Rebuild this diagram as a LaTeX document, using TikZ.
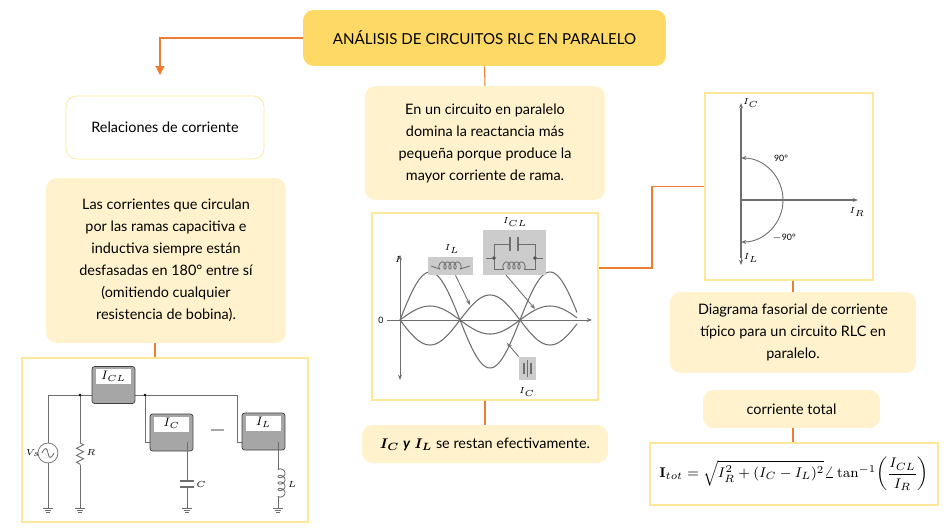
\documentclass[tikz,border=0pt]{standalone}
\usepackage{amsmath}
\usepackage[no-math]{fontspec}
\setmainfont{Lato}
\usetikzlibrary{decorations.pathmorphing,arrows.meta}
\definecolor{gold}{HTML}{FFD966}
\definecolor{cream}{HTML}{FFF2CC}
\definecolor{edge}{HTML}{FFE699}
\definecolor{conn}{HTML}{ED7D31}
\definecolor{wire}{HTML}{6E6E6E}
\newcommand\mymeter[4]{% name, cx, cy, label
 \node[meterbody] (#1) at (#2,#3) {};
 \node[meterwin] at ([yshift=-0.05cm]#1.north) {};
 \node[font=\scriptsize,inner sep=0] at ([yshift=-0.2cm]#1.north) {#4};
 \fill[white] ([xshift=0.17cm,yshift=0.17cm]#1.south west) circle (0.07);
 \fill[white] ([xshift=-0.17cm,yshift=0.17cm]#1.south east) circle (0.07);
}
\newcommand\myground[2]{%
 \draw[wire] (#1-5,#2)--(#1+5,#2) (#1-3.3,#2+2)--(#1+3.3,#2+2) (#1-1.6,#2+4)--(#1+1.6,#2+4);}
% vertical coil: x0,y0, 4 turns downward ~26px
\newcommand\vcoil[2]{\draw[wire,domain=0:1440,samples=160,smooth] plot ({#1+3.5-3.5*cos(\x)},{#2+6.5*\x/360-2.5*sin(\x)});}
% horizontal coil: x0,y0, 4 turns rightward
\newcommand\hcoil[2]{\draw[wire,domain=0:1440,samples=160,smooth] plot ({#1+5*\x/360-2.2*sin(\x)},{#2-3.5+3.5*cos(\x)});}
\begin{document}
\begin{tikzpicture}[x=0.02cm,y=-0.02cm,
 box/.style={rounded corners=6pt,fill=cream,draw=none,align=center,font=\fontsize{8.2}{12.5}\selectfont,inner sep=2pt},
 frame/.style={draw=edge,line width=0.8pt,fill=white},
 cn/.style={draw=conn,line width=0.6pt},
 meterbody/.style={fill=gray!70,draw=gray!50!black,rounded corners=1.5pt,minimum width=0.86cm,minimum height=0.74cm,inner sep=0},
 meterwin/.style={fill=white,minimum width=0.72cm,minimum height=0.3cm,inner sep=0,anchor=north},
 wire/.style={draw=wire,line width=0.5pt},
 gbox/.style={fill=gray!40,inner sep=0}]
\useasboundingbox (0,0) rectangle (950,528);
\coordinate (t2) at (160,75);
\node[rounded corners=6pt,fill=gold,minimum width=7.26cm,minimum height=1.12cm,font=\rmfamily\fontsize{8.6}{11}\selectfont] (title) at (484.5,38) {ANÁLISIS DE CIRCUITOS RLC EN PARALELO};
\draw[cn,-{Triangle[length=5pt,width=5pt,fill=conn]}] (title.west) -| (t2);
\node[box,fill=white,draw=edge,minimum width=3.96cm,minimum height=1.26cm] (rel) at (165,127.5) {Relaciones de corriente};
\node[box,minimum width=4.8cm,minimum height=3.3cm] (las) at (166,260.5) {Las corrientes que circulan\\por las ramas capacitiva e\\inductiva siempre están\\desfasadas en 180° entre sí\\(omitiendo cualquier\\resistencia de bobina).};
\node[frame,minimum width=5.72cm,minimum height=3.28cm] (circ) at (165,440) {};
\draw[cn] (las.south -| 155,0) -- (circ.north -| 155,0);
\node[box,minimum width=4.8cm,minimum height=2.28cm] (en) at (485,143) {En un circuito en paralelo\\domina la reactancia más\\pequeña porque produce la\\mayor corriente de rama.};
\draw[cn] (title.south) -- (en.north);
\node[frame,minimum width=4.52cm,minimum height=3.74cm] (wave) at (485,306.5) {};
\node[box,minimum width=4.92cm,minimum height=0.76cm] (res) at (485,444) {$\boldsymbol{I_C}$ \textbf{\textit{y}} $\boldsymbol{I_L}$ se restan efectivamente.};
\draw[cn] (wave.south) -- (res.north);
\node[frame,minimum width=3.36cm,minimum height=3.74cm] (ph) at (789,186.5) {};
\coordinate (k1) at (652,268);
\draw[cn] (wave.east |- k1) -- (k1) |- (ph.west);
\node[box,minimum width=4.92cm,minimum height=1.62cm] (dia) at (793,332.5) {Diagrama fasorial de corriente\\típico para un circuito RLC en\\paralelo.};
\draw[cn] (ph.south -| 793,0) -- (dia.north -| 793,0);
\node[box,minimum width=3.54cm,minimum height=0.76cm] (tot) at (791.5,409) {corriente total};
\node[frame,minimum width=5.76cm,minimum height=1.24cm] (form) at (794,474) {};
\node[font=\fontsize{8.5}{10}\selectfont] (ft) at (794,474) {$\mathbf{I}_{tot}=\sqrt{I_R^2+(I_C-I_L)^2}\angle\tan^{-1}\!\left(\dfrac{I_{CL}}{I_R}\right)$};
\draw[cn] (tot.south -| 793,0) -- (form.north -| 793,0);
% ---- circuit
\draw[wire] (48,508) -- (48,463) (48,443) -- (48,395) -- (237,395) -- (237,442) -- (248,442);
\draw[wire] (80,395) -- (80,443);
\draw[wire,decorate,decoration={zigzag,segment length=4pt,amplitude=2pt}] (80,443) -- (80,465);
\draw[wire] (80,465) -- (80,508);
\draw[wire] (145,395) -- (145,442) -- (156,442);
\node[circle,draw=wire,fill=white,minimum size=0.4cm,inner sep=0] (vs) at (48,453) {};
\draw[wire] (42,453) .. controls (45,447) and (47,447) .. (48,453) .. controls (49,459) and (51,459) .. (54,453);
\node[font=\tiny] at (33,453) {$V_s$};
\node[font=\tiny] at (91,452) {$R$};
\mymeter{m1}{113.5}{385}{$I_{CL}$}
\mymeter{m2}{171.5}{432.5}{$I_{C}$}
\mymeter{m3}{263.5}{431.5}{$I_{L}$}
\fill[black] (80,395) circle (1.3) (145,395) circle (1.3);
\draw[wire] (187,442) -- (187,481) (187,487) -- (187,508);
\draw[wire,line width=0.8pt] (180,481) -- (194,481) (180,487) -- (194,487);
\node[font=\tiny] at (201,484) {$C$};
\draw[wire] (278,442) -- (278,470);
\vcoil{278}{470}
\draw[wire] (278,496) -- (278,508);
\node[font=\tiny] at (292,484) {$L$};
\draw[gray!70,line width=1.2pt] (211,430) -- (224,430);
\myground{48}{508}\myground{80}{508}\myground{187}{508}\myground{278}{508}
% ---- wave plot
\draw[wire,-{Stealth[length=3pt]}] (387,320) -- (592,320);
\draw[wire,{Stealth[length=3pt]}-{Stealth[length=3pt]}] (400,255) -- (400,380);
\node[font=\tiny] at (398,259) {$I$};
\node[font=\tiny] at (381,320) {0};
\draw[wire,line width=0.6pt,domain=0:531,samples=120,smooth] plot ({400+\x/3},{320-48*sin(\x)});
\draw[wire,line width=0.6pt,domain=0:531,samples=120,smooth] plot ({400+\x/3},{320+25*sin(\x)});
\draw[wire,line width=0.6pt,domain=0:531,samples=120,smooth] plot ({400+\x/3},{320-14*sin(\x)});
\node[gbox,minimum width=0.9cm,minimum height=0.36cm] (bl) at (450.5,266) {};
\draw[wire] ([xshift=2pt]bl.west) -- (440,269);
\hcoil{440}{269}
\draw[wire] (460,269) -- ([xshift=-2pt]bl.east);
\node[font=\tiny] at (452,249) {$I_L$};
\node[gbox,minimum width=1.26cm,minimum height=0.9cm] (bcl) at (514.5,252.5) {};
\draw[wire] (486,258) -- (494,258) -- (494,244) -- (510,244) (518,244) -- (535,244) -- (535,258) -- (543,258);
\draw[wire,line width=0.8pt] (510,237) -- (510,251) (518,237) -- (518,251);
\draw[wire] (494,258) -- (494,269) -- (504,269) (524,269) -- (535,269) -- (535,258);
\hcoil{504}{269}
\fill[wire] (494,258) circle (1.5) (535,258) circle (1.5);
\node[font=\tiny] at (515,222) {$I_{CL}$};
\node[gbox,minimum width=0.34cm,minimum height=0.46cm] (bc) at (527.5,368.5) {};
\draw[wire] (527.5,360) -- (527.5,377);
\draw[wire,line width=0.7pt] (524,363) -- (524,374) (531,363) -- (531,374);
\node[font=\tiny] at (527,392) {$I_C$};
\draw[wire,-{Stealth[length=3pt]}] (bl.south) ++(5,0) -- (470,305);
\draw[wire,-{Stealth[length=3pt]}] (506,275) -- (535,309);
\draw[wire,-{Stealth[length=3pt]}] (bc.north west) -- (507,343);
% ---- phasor
\draw[wire,{Stealth[length=3pt]}-{Stealth[length=3pt]}] (741,103) -- (741,265);
\draw[wire,line width=0.8pt,-{Stealth[length=3pt]}] (741,200) -- (858,200);
\draw[wire,line width=0.8pt] (741,108) -- (741,258);
\draw[wire,-{Stealth[length=3pt]}] (783,200) arc (0:90:42);
\draw[wire,-{Stealth[length=3pt]}] (783,200) arc (0:-90:42);
\node[font=\tiny] at (751,103) {$I_C$};
\node[font=\tiny] at (751,258) {$I_L$};
\node[font=\tiny] at (857,212) {$I_R$};
\node[font=\tiny\rmfamily] at (781,158) {90°};
\node[font=\tiny\rmfamily] at (784,238) {$-$90°};
\end{tikzpicture}
\end{document}
